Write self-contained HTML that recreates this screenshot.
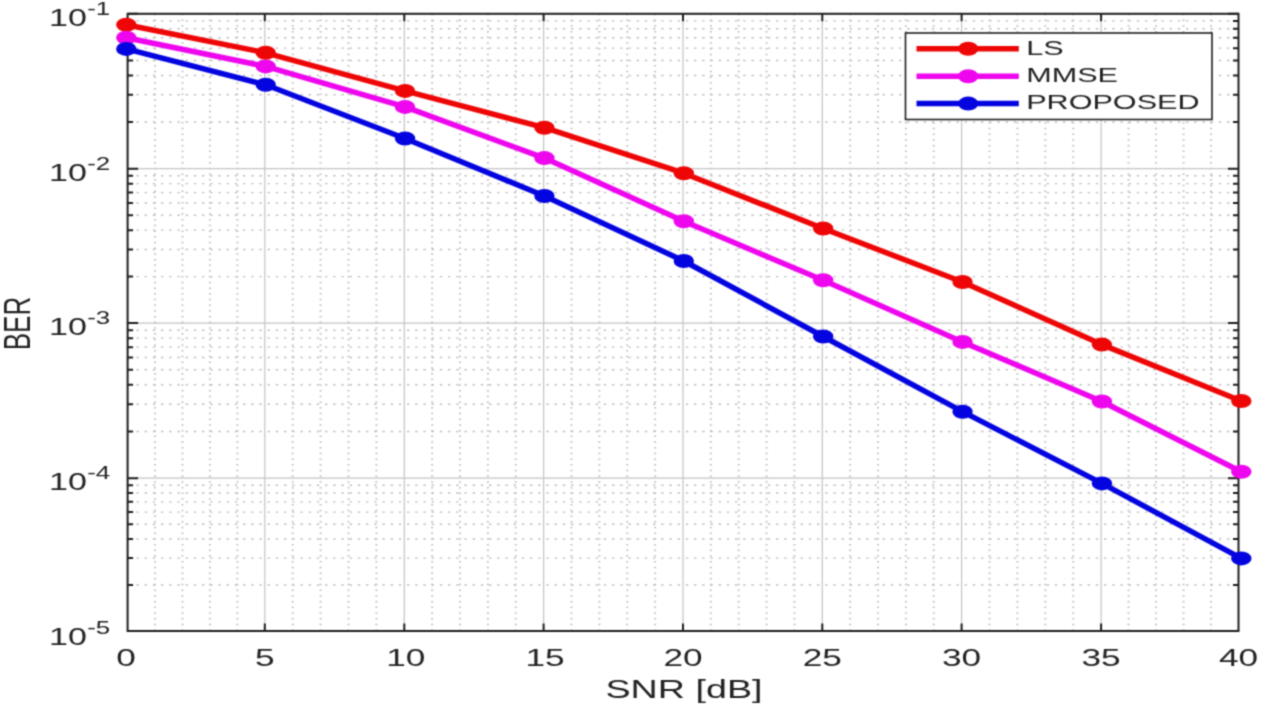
<!DOCTYPE html><html><head><meta charset="utf-8"><title>BER vs SNR</title><style>html,body{margin:0;padding:0;background:#fff;}svg{display:block;}text{font-family:"Liberation Sans",Arial,Helvetica,sans-serif;fill:#222222;}</style></head><body>
<svg width="1270" height="709" viewBox="0 0 1270 709">
<defs><filter id="soft" x="0" y="0" width="1270" height="709" filterUnits="userSpaceOnUse" color-interpolation-filters="sRGB"><feConvolveMatrix order="3" kernelMatrix="1 3 1 3 9 3 1 3 1" edgeMode="duplicate"/></filter></defs><g filter="url(#soft)">
<rect x="0" y="0" width="1270" height="709" fill="#fff"/>
<path d="M155.04 13.80V631.00M182.48 13.80V631.00M209.92 13.80V631.00M237.36 13.80V631.00M292.70 13.80V631.00M320.60 13.80V631.00M348.50 13.80V631.00M376.40 13.80V631.00M432.16 13.80V631.00M460.02 13.80V631.00M487.88 13.80V631.00M515.74 13.80V631.00M571.48 13.80V631.00M599.36 13.80V631.00M627.24 13.80V631.00M655.12 13.80V631.00M710.86 13.80V631.00M738.72 13.80V631.00M766.58 13.80V631.00M794.44 13.80V631.00M850.16 13.80V631.00M878.02 13.80V631.00M905.88 13.80V631.00M933.74 13.80V631.00M989.50 13.80V631.00M1017.40 13.80V631.00M1045.30 13.80V631.00M1073.20 13.80V631.00M1128.58 13.80V631.00M1156.06 13.80V631.00M1183.54 13.80V631.00M1211.02 13.80V631.00" stroke="#c0c0c0" stroke-width="2.00" stroke-dasharray="1.5 4.2" fill="none"/>
<path d="M127.60 585.00H1238.50M127.60 558.10H1238.50M127.60 539.01H1238.50M127.60 524.20H1238.50M127.60 512.10H1238.50M127.60 501.87H1238.50M127.60 493.01H1238.50M127.60 485.19H1238.50M127.60 431.51H1238.50M127.60 404.20H1238.50M127.60 384.82H1238.50M127.60 369.79H1238.50M127.60 357.51H1238.50M127.60 347.13H1238.50M127.60 338.13H1238.50M127.60 330.20H1238.50M127.60 276.62H1238.50M127.60 249.43H1238.50M127.60 230.14H1238.50M127.60 215.18H1238.50M127.60 202.95H1238.50M127.60 192.62H1238.50M127.60 183.66H1238.50M127.60 175.76H1238.50M127.60 122.07H1238.50M127.60 94.79H1238.50M127.60 75.44H1238.50M127.60 60.43H1238.50M127.60 48.16H1238.50M127.60 37.79H1238.50M127.60 28.81H1238.50M127.60 20.89H1238.50" stroke="#c0c0c0" stroke-width="1.40" stroke-dasharray="2.4 5.8" stroke-dashoffset="-0.6" fill="none"/>
<path d="M264.80 13.80V631.00M404.30 13.80V631.00M543.60 13.80V631.00M683.00 13.80V631.00M822.30 13.80V631.00M961.60 13.80V631.00M1101.10 13.80V631.00M127.60 168.70H1238.50M127.60 323.10H1238.50M127.60 478.20H1238.50" stroke="#c4c4c4" stroke-width="1.20" fill="none"/>
<path d="M264.80 631.00v-7.50M264.80 13.80v7.50M404.30 631.00v-7.50M404.30 13.80v7.50M543.60 631.00v-7.50M543.60 13.80v7.50M683.00 631.00v-7.50M683.00 13.80v7.50M822.30 631.00v-7.50M822.30 13.80v7.50M961.60 631.00v-7.50M961.60 13.80v7.50M1101.10 631.00v-7.50M1101.10 13.80v7.50M127.60 631.00h10.50M1238.50 631.00h-10.50M127.60 585.00h5.50M1238.50 585.00h-5.50M127.60 558.10h5.50M1238.50 558.10h-5.50M127.60 539.01h5.50M1238.50 539.01h-5.50M127.60 524.20h5.50M1238.50 524.20h-5.50M127.60 512.10h5.50M1238.50 512.10h-5.50M127.60 501.87h5.50M1238.50 501.87h-5.50M127.60 493.01h5.50M1238.50 493.01h-5.50M127.60 485.19h5.50M1238.50 485.19h-5.50M127.60 478.20h10.50M1238.50 478.20h-10.50M127.60 431.51h5.50M1238.50 431.51h-5.50M127.60 404.20h5.50M1238.50 404.20h-5.50M127.60 384.82h5.50M1238.50 384.82h-5.50M127.60 369.79h5.50M1238.50 369.79h-5.50M127.60 357.51h5.50M1238.50 357.51h-5.50M127.60 347.13h5.50M1238.50 347.13h-5.50M127.60 338.13h5.50M1238.50 338.13h-5.50M127.60 330.20h5.50M1238.50 330.20h-5.50M127.60 323.10h10.50M1238.50 323.10h-10.50M127.60 276.62h5.50M1238.50 276.62h-5.50M127.60 249.43h5.50M1238.50 249.43h-5.50M127.60 230.14h5.50M1238.50 230.14h-5.50M127.60 215.18h5.50M1238.50 215.18h-5.50M127.60 202.95h5.50M1238.50 202.95h-5.50M127.60 192.62h5.50M1238.50 192.62h-5.50M127.60 183.66h5.50M1238.50 183.66h-5.50M127.60 175.76h5.50M1238.50 175.76h-5.50M127.60 168.70h10.50M1238.50 168.70h-10.50M127.60 122.07h5.50M1238.50 122.07h-5.50M127.60 94.79h5.50M1238.50 94.79h-5.50M127.60 75.44h5.50M1238.50 75.44h-5.50M127.60 60.43h5.50M1238.50 60.43h-5.50M127.60 48.16h5.50M1238.50 48.16h-5.50M127.60 37.79h5.50M1238.50 37.79h-5.50M127.60 28.81h5.50M1238.50 28.81h-5.50M127.60 20.89h5.50M1238.50 20.89h-5.50M127.60 13.80h10.50M1238.50 13.80h-10.50" stroke="#1e1e1e" stroke-width="2" fill="none"/>
<rect x="127.60" y="13.80" width="1110.90" height="617.20" stroke="#1e1e1e" stroke-width="2" fill="none"/>
<polyline points="126.30,24.70 265.68,52.80 405.05,90.90 544.42,127.70 683.80,173.20 823.17,228.50 962.55,282.00 1101.92,344.60 1241.30,401.00" stroke="#ee0606" stroke-width="5.50" fill="none" stroke-linejoin="round"/>
<ellipse cx="126.30" cy="24.70" rx="10.20" ry="7.00" fill="#ee0606"/>
<ellipse cx="265.68" cy="52.80" rx="10.20" ry="7.00" fill="#ee0606"/>
<ellipse cx="405.05" cy="90.90" rx="10.20" ry="7.00" fill="#ee0606"/>
<ellipse cx="544.42" cy="127.70" rx="10.20" ry="7.00" fill="#ee0606"/>
<ellipse cx="683.80" cy="173.20" rx="10.20" ry="7.00" fill="#ee0606"/>
<ellipse cx="823.17" cy="228.50" rx="10.20" ry="7.00" fill="#ee0606"/>
<ellipse cx="962.55" cy="282.00" rx="10.20" ry="7.00" fill="#ee0606"/>
<ellipse cx="1101.92" cy="344.60" rx="10.20" ry="7.00" fill="#ee0606"/>
<ellipse cx="1241.30" cy="401.00" rx="10.20" ry="7.00" fill="#ee0606"/>
<polyline points="126.30,37.80 265.68,66.40 405.05,106.90 544.42,158.10 683.80,221.30 823.17,280.30 962.55,341.90 1101.92,401.50 1241.30,471.80" stroke="#ee06ee" stroke-width="5.50" fill="none" stroke-linejoin="round"/>
<ellipse cx="126.30" cy="37.80" rx="10.20" ry="7.00" fill="#ee06ee"/>
<ellipse cx="265.68" cy="66.40" rx="10.20" ry="7.00" fill="#ee06ee"/>
<ellipse cx="405.05" cy="106.90" rx="10.20" ry="7.00" fill="#ee06ee"/>
<ellipse cx="544.42" cy="158.10" rx="10.20" ry="7.00" fill="#ee06ee"/>
<ellipse cx="683.80" cy="221.30" rx="10.20" ry="7.00" fill="#ee06ee"/>
<ellipse cx="823.17" cy="280.30" rx="10.20" ry="7.00" fill="#ee06ee"/>
<ellipse cx="962.55" cy="341.90" rx="10.20" ry="7.00" fill="#ee06ee"/>
<ellipse cx="1101.92" cy="401.50" rx="10.20" ry="7.00" fill="#ee06ee"/>
<ellipse cx="1241.30" cy="471.80" rx="10.20" ry="7.00" fill="#ee06ee"/>
<polyline points="126.30,48.90 265.68,84.80 405.05,138.50 544.42,196.00 683.80,261.00 823.17,336.50 962.55,411.70 1101.92,483.40 1241.30,558.40" stroke="#0404e0" stroke-width="5.50" fill="none" stroke-linejoin="round"/>
<ellipse cx="126.30" cy="48.90" rx="10.20" ry="7.00" fill="#0404e0"/>
<ellipse cx="265.68" cy="84.80" rx="10.20" ry="7.00" fill="#0404e0"/>
<ellipse cx="405.05" cy="138.50" rx="10.20" ry="7.00" fill="#0404e0"/>
<ellipse cx="544.42" cy="196.00" rx="10.20" ry="7.00" fill="#0404e0"/>
<ellipse cx="683.80" cy="261.00" rx="10.20" ry="7.00" fill="#0404e0"/>
<ellipse cx="823.17" cy="336.50" rx="10.20" ry="7.00" fill="#0404e0"/>
<ellipse cx="962.55" cy="411.70" rx="10.20" ry="7.00" fill="#0404e0"/>
<ellipse cx="1101.92" cy="483.40" rx="10.20" ry="7.00" fill="#0404e0"/>
<ellipse cx="1241.30" cy="558.40" rx="10.20" ry="7.00" fill="#0404e0"/>
<rect x="905.50" y="33.00" width="306.50" height="86.50" fill="#fff" stroke="#1e1e1e" stroke-width="1.6"/>
<path d="M916.5 48.70H1018.8" stroke="#ee0606" stroke-width="5.50"/>
<ellipse cx="968.2" cy="48.70" rx="10.20" ry="7.00" fill="#ee0606"/>
<path d="M916.5 76.20H1018.8" stroke="#ee06ee" stroke-width="5.50"/>
<ellipse cx="968.2" cy="76.20" rx="10.20" ry="7.00" fill="#ee06ee"/>
<path d="M916.5 103.60H1018.8" stroke="#0404e0" stroke-width="5.50"/>
<ellipse cx="968.2" cy="103.60" rx="10.20" ry="7.00" fill="#0404e0"/>
<text transform="translate(1026.20 55.40) scale(1.530 1)" font-size="20.00">LS</text>
<text transform="translate(1026.20 82.40) scale(1.530 1)" font-size="20.00">MMSE</text>
<text transform="translate(1026.20 109.40) scale(1.530 1)" font-size="20.00">PROPOSED</text>
<text transform="translate(126.10 666.00) scale(1.440 1)" font-size="24.50" text-anchor="middle">0</text>
<text transform="translate(264.80 666.00) scale(1.440 1)" font-size="24.50" text-anchor="middle">5</text>
<text transform="translate(405.80 666.00) scale(1.440 1)" font-size="24.50" text-anchor="middle">10</text>
<text transform="translate(545.10 666.00) scale(1.440 1)" font-size="24.50" text-anchor="middle">15</text>
<text transform="translate(683.00 666.00) scale(1.440 1)" font-size="24.50" text-anchor="middle">20</text>
<text transform="translate(822.30 666.00) scale(1.440 1)" font-size="24.50" text-anchor="middle">25</text>
<text transform="translate(961.60 666.00) scale(1.440 1)" font-size="24.50" text-anchor="middle">30</text>
<text transform="translate(1101.10 666.00) scale(1.440 1)" font-size="24.50" text-anchor="middle">35</text>
<text transform="translate(1238.50 666.00) scale(1.440 1)" font-size="24.50" text-anchor="middle">40</text>
<text transform="translate(49.00 26.05) scale(1.390 1)" font-size="24.50">10</text>
<text transform="translate(87.20 14.55) scale(1.440 1)" font-size="18.00">-1</text>
<text transform="translate(49.00 181.10) scale(1.390 1)" font-size="24.50">10</text>
<text transform="translate(87.20 169.60) scale(1.440 1)" font-size="18.00">-2</text>
<text transform="translate(49.00 335.40) scale(1.390 1)" font-size="24.50">10</text>
<text transform="translate(87.20 323.90) scale(1.440 1)" font-size="18.00">-3</text>
<text transform="translate(49.00 490.10) scale(1.390 1)" font-size="24.50">10</text>
<text transform="translate(87.20 478.60) scale(1.440 1)" font-size="18.00">-4</text>
<text transform="translate(49.00 645.10) scale(1.390 1)" font-size="24.50">10</text>
<text transform="translate(87.20 633.60) scale(1.440 1)" font-size="18.00">-5</text>
<text transform="translate(684.00 698.2) scale(1.450 1)" font-size="26.00" text-anchor="middle">SNR [dB]</text>
<text transform="translate(30 323.50) scale(1.440 1) rotate(-90)" font-size="26.00" text-anchor="middle">BER</text>
</g>
</svg></body></html>
